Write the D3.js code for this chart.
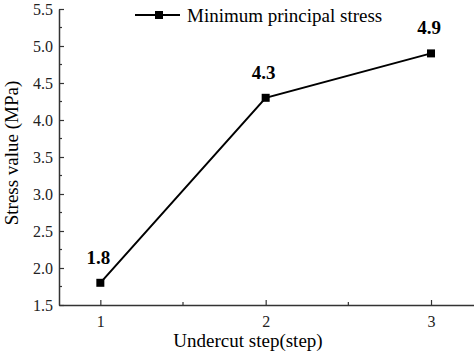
<!DOCTYPE html>
<html>
<head>
<meta charset="utf-8">
<script src="https://cdn.jsdelivr.net/npm/d3@7"></script>
<style>
  body { margin: 0; background: #fff; }
</style>
</head>
<body>
<svg width="474" height="361"></svg>
<script>
var steps = [1, 2, 3];
var stressValues = [1.8, 4.3, 4.9];
var seriesName = "Minimum principal stress";
var yTicks = [1.5, 2.0, 2.5, 3.0, 3.5, 4.0, 4.5, 5.0, 5.5];
var xTicks = [1, 2, 3];
var xMinor = [1.5, 2.5];
var yMinor = [1.75, 2.25, 2.75, 3.25, 3.75, 4.25, 4.75, 5.25];

var serif = "'Liberation Serif', 'Times New Roman', serif";
var svg = d3.select("svg");

var x = d3.scaleLinear().domain([0.75, 3.26]).range([59, 474]);
var y = d3.scaleLinear().domain([1.5, 5.5]).range([305, 9]);

// minor ticks
svg.append("g").selectAll("line").data(xMinor).enter().append("line")
    .attr("x1", function(d) { return x(d); }).attr("x2", function(d) { return x(d); })
    .attr("y1", 305).attr("y2", 302)
    .attr("stroke", "#333").attr("stroke-width", 1.2);

svg.append("g").selectAll("line").data(yMinor).enter().append("line")
    .attr("x1", 59).attr("x2", 62)
    .attr("y1", function(d) { return y(d); }).attr("y2", function(d) { return y(d); })
    .attr("stroke", "#333").attr("stroke-width", 1.2);

var xAxis = svg.append("g")
    .attr("transform", "translate(0,305)")
    .call(d3.axisBottom(x).tickValues(xTicks).tickSizeInner(-5).tickSizeOuter(0).tickPadding(11).tickFormat(d3.format("d")));

var yAxis = svg.append("g")
    .attr("transform", "translate(59,0)")
    .call(d3.axisLeft(y).tickValues(yTicks).tickSizeInner(-5).tickSizeOuter(0).tickPadding(6).tickFormat(d3.format(".1f")));

[xAxis, yAxis].forEach(function(g) {
  g.attr("font-family", null).attr("font-size", null);
  g.select(".domain").attr("stroke", "#333").attr("stroke-width", 1.5);
  g.selectAll(".tick line").attr("stroke", "#333").attr("stroke-width", 1.2);
  g.selectAll(".tick text").style("font-family", serif).style("font-size", "16px").attr("fill", "#222");
});

// axis titles
svg.append("text")
    .attr("x", 248).attr("y", 347)
    .attr("text-anchor", "middle")
    .style("font-family", serif).style("font-size", "19px")
    .text("Undercut step(step)");

svg.append("text")
    .attr("transform", "translate(18,153) rotate(-90)")
    .attr("text-anchor", "middle")
    .style("font-family", serif).style("font-size", "19px")
    .text("Stress value (MPa)");

// line + markers
var points = steps.map(function(s, i) { return {s: s, v: stressValues[i]}; });

svg.append("path")
    .datum(points)
    .attr("fill", "none")
    .attr("stroke", "#000")
    .attr("stroke-width", 2)
    .attr("d", d3.line().x(function(d) { return x(d.s); }).y(function(d) { return y(d.v); }));

svg.selectAll(".marker").data(points).enter().append("rect")
    .attr("class", "marker")
    .attr("x", function(d) { return x(d.s) - 4; })
    .attr("y", function(d) { return y(d.v) - 4; })
    .attr("width", 8).attr("height", 8)
    .attr("fill", "#000");

svg.selectAll(".vlabel").data(points).enter().append("text")
    .attr("class", "vlabel")
    .attr("x", function(d) { return x(d.s) - 2; })
    .attr("y", function(d) { return y(d.v) - 19; })
    .attr("text-anchor", "middle")
    .style("font-family", serif).style("font-size", "19px").style("font-weight", "bold")
    .text(function(d) { return d3.format(".1f")(d.v); });

// legend
var legend = svg.append("g").attr("transform", "translate(135,15)");
legend.append("line").attr("x1", 0).attr("x2", 45).attr("y1", 0).attr("y2", 0)
    .attr("stroke", "#000").attr("stroke-width", 2);
legend.append("rect").attr("x", 20).attr("y", -4).attr("width", 8).attr("height", 8).attr("fill", "#000");
legend.append("text").attr("x", 52).attr("y", 7)
    .style("font-family", serif).style("font-size", "19px")
    .text(seriesName);
</script>
</body>
</html>
